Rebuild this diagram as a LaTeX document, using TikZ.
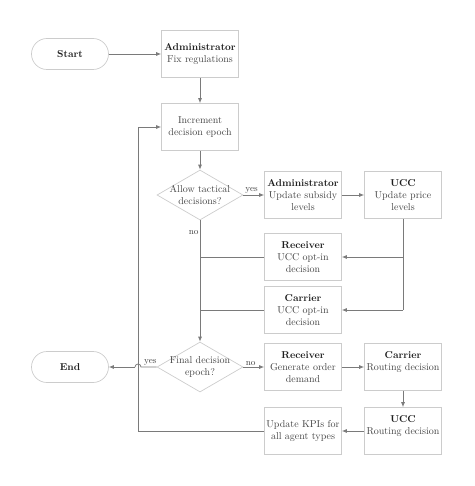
\documentclass[tikz,border=0pt]{standalone}
\usetikzlibrary{shapes.geometric,arrows.meta}
\definecolor{boxc}{HTML}{CCCCCC}
\definecolor{linec}{HTML}{7A7A7A}
\definecolor{txt}{HTML}{444444}
\definecolor{hd}{HTML}{1E1E1E}
\begin{document}
\begin{tikzpicture}[x=1pt,y=-1pt,
  box/.style={draw=boxc, line width=0.7pt, minimum width=77pt, minimum height=47pt, text width=75pt, align=center, inner sep=1pt, text=txt},
  term/.style={draw=boxc, line width=0.7pt, rounded corners=15.5pt, minimum width=77pt, minimum height=31pt, font=\bfseries, text=hd},
  dia/.style={diamond, draw=boxc, line width=0.7pt, aspect=1.72, minimum width=86pt, minimum height=50pt, inner sep=0pt},
  dtext/.style={align=center, text=txt, inner sep=0pt},
  ln/.style={draw=linec, line width=0.8pt},
  arr/.style={ln, -{Latex[length=5pt,width=4pt]}},
  lab/.style={text=txt, inner sep=1pt, font=\small}]
\useasboundingbox (0,0) rectangle (474,486);
\newcommand{\hdr}[1]{\textcolor{hd}{\textbf{#1}}}
\node[term] (start) at (70,54) {Start};
\node[box] (admin) at (200,54) {\hdr{Administrator}\\Fix regulations};
\node[box] (inc) at (200,127) {Increment\\decision epoch};
\node[dia] (d1) at (200,195) {};
\node[dtext] (d1t) at (200,195) {Allow tactical\\decisions?};
\node[box] (sub) at (303,195) {\hdr{Administrator}\\Update subsidy\\levels};
\node[box] (price) at (403,195) {\hdr{UCC}\\Update price\\levels};
\node[box] (ropt) at (303,257) {\hdr{Receiver}\\UCC opt-in\\decision};
\node[box] (copt) at (303,310) {\hdr{Carrier}\\UCC opt-in\\decision};
\node[dia] (d2) at (200,367) {};
\node[dtext] (d2t) at (200,367) {Final decision\\epoch?};
\node[box] (gen) at (303,367) {\hdr{Receiver}\\Generate order\\demand};
\node[box] (croute) at (403,367) {\hdr{Carrier}\\Routing decision\\\mbox{}};
\node[box] (uroute) at (403,431) {\hdr{UCC}\\Routing decision\\\mbox{}};
\node[box] (kpi) at (303,431) {Update KPIs for\\all agent types};
\node[term] (end) at (70,367) {End};

\draw[arr] (start) -- (admin);
\draw[arr] (admin) -- (inc);
\draw[arr] (inc) -- (d1);
\draw[arr] (d1.east) -- node[lab, above, pos=0.4] {yes} (sub);
\draw[arr] (sub) -- (price);
\draw[arr] (d1.south) -- node[lab, left, pos=0.1] {no} (d2.north);
\coordinate (j1) at (200,257);
\coordinate (j2) at (200,310);
\draw[ln] (ropt.west) -- (j1);
\draw[ln] (copt.west) -- (j2);
\coordinate (pr1) at (403,257);
\coordinate (pr2) at (403,310);
\draw[ln] (price.south) -- (pr2);
\draw[arr] (pr1) -- (ropt.east);
\draw[arr] (pr2) -- (copt.east);
\draw[arr] (d2.east) -- node[lab, above, pos=0.35] {no} (gen);
\draw[arr] (gen) -- (croute);
\draw[arr] (croute) -- (uroute);
\draw[arr] (uroute) -- (kpi);
\coordinate (lb) at (138,431);
\coordinate (lt) at (138,127);
\draw[arr] (kpi.west) -- (lb) -- (lt) -- (inc.west);
\coordinate (h1) at (141,367);
\draw[ln] (d2.west) -- node[lab, above, pos=0.4] {yes} (h1) arc (0:-180:3);
\coordinate (h2) at (135,367);
\draw[arr] (h2) -- (end.east);
\end{tikzpicture}
\end{document}
